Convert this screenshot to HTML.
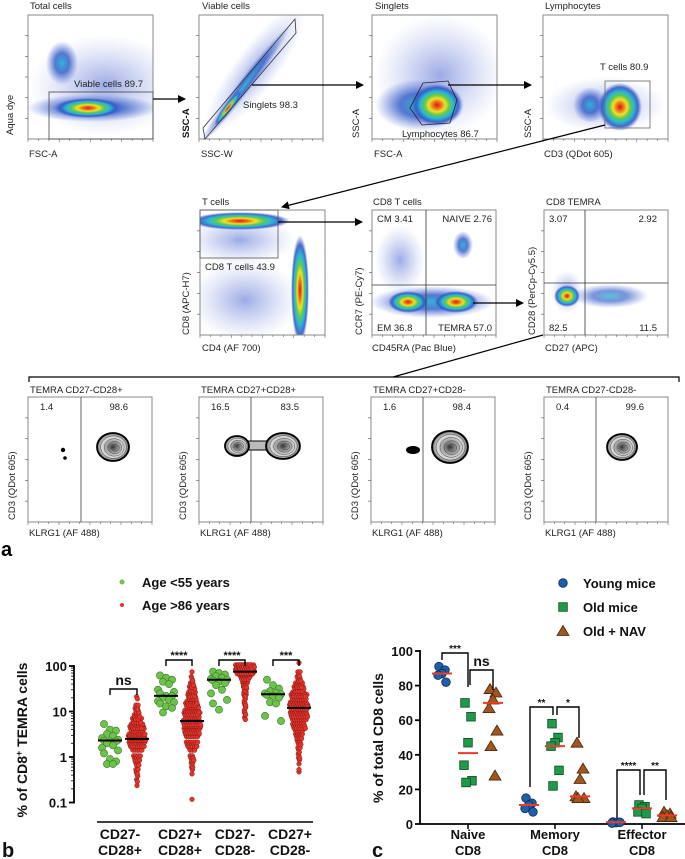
<!DOCTYPE html>
<html><head><meta charset="utf-8">
<style>
html,body{margin:0;padding:0;background:#fff;}
svg{display:block;font-family:"Liberation Sans",sans-serif;}
.fl{font-size:9.5px;fill:#222;}
.bb{font-weight:bold;fill:#111;}
</style></head>
<body>
<svg id="fig" width="685" height="859" viewBox="0 0 685 859" xmlns="http://www.w3.org/2000/svg">
<defs>
<radialGradient id="heat">
<stop offset="0" stop-color="#e3141a"/>
<stop offset="0.18" stop-color="#f07a1e"/>
<stop offset="0.32" stop-color="#efe22a"/>
<stop offset="0.48" stop-color="#62c94a"/>
<stop offset="0.64" stop-color="#28b8d8"/>
<stop offset="0.82" stop-color="#3358c4" stop-opacity="0.9"/>
<stop offset="1" stop-color="#4a66d0" stop-opacity="0"/>
</radialGradient>
<radialGradient id="cool">
<stop offset="0" stop-color="#2fb4d8"/>
<stop offset="0.45" stop-color="#3a62c8" stop-opacity="0.85"/>
<stop offset="1" stop-color="#5a74d6" stop-opacity="0"/>
</radialGradient>
<radialGradient id="haze">
<stop offset="0" stop-color="#5a72d4" stop-opacity="0.6"/>
<stop offset="1" stop-color="#8fa0e4" stop-opacity="0"/>
</radialGradient>
<radialGradient id="gray">
<stop offset="0" stop-color="#333"/>
<stop offset="0.3" stop-color="#888"/>
<stop offset="0.7" stop-color="#ddd"/>
<stop offset="0.9" stop-color="#999"/>
<stop offset="1" stop-color="#111"/>
</radialGradient>
<marker id="ar" markerWidth="8" markerHeight="8" refX="7" refY="4" orient="auto" markerUnits="userSpaceOnUse"><path d="M0,0 L8,4 L0,8 z" fill="#000"/></marker>
</defs>
<g id="flow"></g>
<g id="panelB"></g>
<g id="panelC"></g>
</svg>
<script>
// ---------- Panel b data ----------
const bCategories = [["CD27-","CD28+"],["CD27+","CD28+"],["CD27-","CD28-"],["CD27+","CD28-"]];
const bYTicks = [100,10,1,0.1];
const bYTickLabels = ["100","10","1","0.1"];
const bSig = ["ns","****","****","***"];
const bGreen = [
 [5.3,4.0,3.8,3.2,2.9,2.6,2.4,2.3,2.2,2.2,2.0,1.8,1.6,1.4,1.2,0.9,0.8,0.7,0.7],
 [62,55,50,45,40,30,27,25,22,22,20,18,17,16,15,13,12,9.5],
 [75,70,65,60,55,52,50,48,45,42,38,30,25,18,15,11],
 [50,38,32,28,26,25,24,23,22,20,16,15,8,6.2]
];
const bGreenMedian = [2.3,22,50,24];
const bRedMedian = [2.5,6.2,75,12];
const bRedLevels = [
 [0.2,0.3,0.4,0.5,0.7,1,1.5,2,2.5,3,4,5,6,8,10,13,18],
 [0.1,0.4,0.5,0.7,0.8,1,1.5,2,3,4,5,6,8,10,13,16,20,25,30,40,50,70],
 [6,7,8,10,13,16,20,25,30,40,50,60,70,80,90,100],
 [0.4,0.5,0.6,0.9,1,1.5,2,3,4,5,7,9,12,15,20,25,30,40,50,70,100]
];
const bRedCounts = [
 [1,2,3,4,6,10,16,22,24,22,20,16,13,8,6,4,2],
 [1,1,2,3,3,6,10,16,20,22,24,24,22,20,18,14,12,10,8,5,3,1],
 [1,2,2,3,3,3,4,4,5,7,10,14,22,26,26,18],
 [1,1,1,2,3,4,6,10,14,18,22,24,26,24,22,18,14,10,6,4,1]
];
// ---------- Panel c data ----------
const cCategories = [["Naive","CD8"],["Memory","CD8"],["Effector","CD8"]];
const cSeries = ["Young mice","Old mice","Old + NAV"];
const cYTicks = [0,20,40,60,80,100];
const cYoung = [[91,89,87,86,82],[15,12,11,9,7],[1.2,1,0.8,0.5,1]];
const cOld = [[70,62,47,34,25,24],[58,50,47,45,31,22],[11,10,9,7,6]];
const cNav = [[78,76,72,67,54,45,28],[47,32,26,16,15,15],[7,6,5,4,4]];
const cMedYoung = [87,11,1];
const cMedOld = [41,45,9];
const cMedNav = [70,16,5];

const NS="http://www.w3.org/2000/svg";
function mk(parent,tag,attrs,text){const e=document.createElementNS(NS,tag);for(const k in attrs)e.setAttribute(k,attrs[k]);if(text!==undefined)e.textContent=text;parent.appendChild(e);return e;}

// ================= FLOW PANELS =================
const flow=document.getElementById('flow');
function box(name){
  const g=mk(flow,'g',{});
  
  
  return g;
}
function frame(g,x,y,w,h){
  mk(g,'rect',{x:x,y:y,width:w,height:h,fill:'none',stroke:'#888','stroke-width':1});
  for(let i=1;i<6;i++){mk(g,'line',{x1:x-3,x2:x,y1:y+h*i/6,y2:y+h*i/6,stroke:'#666','stroke-width':0.7});}
  for(let i=0;i<=12;i++){mk(g,'line',{x1:x+w*i/12,x2:x+w*i/12,y1:y+h,y2:y+h+(i%3==0?3:2),stroke:'#666','stroke-width':0.6});}
}
function blob(g,cx,cy,rx,ry,fill,rot,op){
  mk(g,'ellipse',{cx:cx,cy:cy,rx:rx,ry:ry,fill:fill,transform:'rotate('+(rot||0)+' '+cx+' '+cy+')',opacity:op===undefined?1:op});
}
function txt(g,x,y,s,cls,anchor,rot,name){
  const t=mk(g,'text',{x:x,y:y,class:cls||'fl','text-anchor':anchor||'start'},s);
  if(rot)t.setAttribute('transform','rotate(-90 '+x+' '+y+')');
  
  
  return t;
}
function clipG(g,x,y,w,h,id){
  const cp=mk(flow,'clipPath',{id:id});mk(cp,'rect',{x:x,y:y,width:w,height:h});
  return mk(g,'g',{'clip-path':'url(#'+id+')'});
}
const TY=15, TH=124;
// Panel 1 Total cells
let g=box('total-cells-plot');
let c=clipG(g,28,TY,125,TH,'cp1');
blob(c,105,85,75,50,'url(#haze)');
blob(c,62,63,16,22,'url(#cool)');
blob(c,92,108,66,14,'url(#cool)');
blob(c,88,108,34,10,'url(#heat)');
frame(g,28,TY,125,TH);
mk(g,'rect',{x:49,y:92,width:104,height:47,fill:'none',stroke:'#444','stroke-width':0.8});
txt(g,74,87,'Viable cells 89.7');
txt(g,30,9,'Total cells','fl','start',0,'plot-title');
txt(g,29,157,'FSC-A','fl','start',0,'x-axis-title');
txt(g,13,135,'Aqua dye','fl','start',1,'y-axis-title');
// Panel 2
g=box('viable-cells-plot');
c=clipG(g,199,TY,124,TH,'cp2');
blob(c,255,70,80,22,'url(#haze)',-53);
blob(c,245,85,75,7,'url(#cool)',-53);
blob(c,228,108,22,4,'url(#heat)',-53,0.8);
frame(g,199,TY,124,TH);
mk(g,'polygon',{points:'203,128 205,139 296,33 295,19',fill:'none',stroke:'#333','stroke-width':0.8});
txt(g,243,108,'Singlets 98.3');
txt(g,202,9,'Viable cells','fl','start',0,'plot-title');
txt(g,201,157,'SSC-W','fl','start',0,'x-axis-title');
txt(g,189,138,'SSC-A','fl bb','start',1,'y-axis-title');
// Panel 3
g=box('singlets-plot');
c=clipG(g,372,TY,125,TH,'cp3');
blob(c,440,75,65,60,'url(#haze)');
blob(c,420,105,45,26,'url(#cool)');
blob(c,437,105,26,21,'url(#heat)');
frame(g,372,TY,125,TH);
mk(g,'polygon',{points:'423,83 448,81 457,100 450,123 422,125 410,108',fill:'none',stroke:'#222','stroke-width':0.8});
txt(g,402,137,'Lymphocytes 86.7');
txt(g,375,9,'Singlets','fl','start',0,'plot-title');
txt(g,374,157,'FSC-A','fl','start',0,'x-axis-title');
txt(g,359,138,'SSC-A','fl','start',1,'y-axis-title');
// Panel 4
g=box('lymphocytes-plot');
c=clipG(g,543,TY,125,TH,'cp4');
blob(c,605,105,60,28,'url(#haze)');
blob(c,590,105,17,18,'url(#cool)');
blob(c,620,107,22,24,'url(#heat)');
frame(g,543,TY,125,TH);
mk(g,'rect',{x:605,y:81,width:45,height:47,fill:'none',stroke:'#777','stroke-width':0.9});
txt(g,600,70,'T cells 80.9');
txt(g,545,9,'Lymphocytes','fl','start',0,'plot-title');
txt(g,544,157,'CD3 (QDot 605)','fl','start',0,'x-axis-title');
txt(g,531,138,'SSC-A','fl','start',1,'y-axis-title');
// Middle T cells
const MY=210, MH=125;
g=box('t-cells-plot');
c=clipG(g,200,MY,125,MH,'cp5');
blob(c,245,300,55,40,'url(#haze)');
blob(c,240,240,55,25,'url(#haze)');
blob(c,240,221,50,9,'url(#heat)');
blob(c,300,290,9,55,'url(#heat)');
frame(g,200,MY,125,MH);
mk(g,'rect',{x:200,y:210,width:78,height:48,fill:'none',stroke:'#555','stroke-width':0.8});
txt(g,205,270,'CD8 T cells 43.9');
txt(g,202,205,'T cells','fl','start',0,'plot-title');
txt(g,202,351,'CD4 (AF 700)','fl','start',0,'x-axis-title');
txt(g,189,335,'CD8 (APC-H7)','fl','start',1,'y-axis-title');
// Middle CD8 T cells
g=box('cd8-t-cells-plot');
c=clipG(g,372,MY,124,MH,'cp6');
blob(c,400,260,25,35,'url(#haze)');
blob(c,463,245,10,14,'url(#cool)');
blob(c,432,302,62,16,'url(#cool)');
blob(c,408,302,20,11,'url(#heat)');
blob(c,456,302,22,11,'url(#heat)');
frame(g,372,MY,124,MH);
mk(g,'line',{x1:426,x2:426,y1:210,y2:335,stroke:'#333','stroke-width':0.8});
mk(g,'line',{x1:372,x2:496,y1:285,y2:285,stroke:'#333','stroke-width':0.8});
txt(g,377,222,'CM 3.41');txt(g,492,222,'NAIVE 2.76','fl','end');
txt(g,377,331,'EM 36.8');txt(g,492,331,'TEMRA 57.0','fl','end');
txt(g,373,205,'CD8 T cells','fl','start',0,'plot-title');
txt(g,372,351,'CD45RA (Pac Blue)','fl','start',0,'x-axis-title');
txt(g,362,335,'CCR7 (PE-Cy7)','fl','start',1,'y-axis-title');
// Middle CD8 TEMRA
g=box('cd8-temra-plot');
c=clipG(g,544,MY,124,MH,'cp7');
blob(c,610,296,38,12,'url(#cool)',0,0.8);
blob(c,567,292,16,22,'url(#haze)');
blob(c,567,296,13,11,'url(#heat)');
frame(g,544,MY,124,MH);
mk(g,'line',{x1:585,x2:585,y1:210,y2:335,stroke:'#333','stroke-width':0.8});
mk(g,'line',{x1:544,x2:668,y1:283,y2:283,stroke:'#333','stroke-width':0.8});
txt(g,549,222,'3.07');txt(g,657,222,'2.92','fl','end');
txt(g,549,331,'82.5');txt(g,657,331,'11.5','fl','end');
txt(g,546,205,'CD8 TEMRA','fl','start',0,'plot-title');
txt(g,545,351,'CD27 (APC)','fl','start',0,'x-axis-title');
txt(g,535,335,'CD28 (PerCp-Cy5.5)','fl','start',1,'y-axis-title');
// Arrows
const arrows=[[153,99,185,99],[252,85,363,85],[448,85,531,85],[605,125,282,207],[278,222,362,222],[473,303,523,303]];
arrows.forEach(a=>{const l=mk(flow,'line',{x1:a[0],y1:a[1],x2:a[2],y2:a[3],stroke:'#000','stroke-width':1.3,'marker-end':'url(#ar)'});

});
// Bracket to bottom row
const br=mk(flow,'path',{d:'M29,382 V377 H679 V382 M393,377 L543,335',fill:'none',stroke:'#000','stroke-width':1.2});


// Bottom contour panels
const BY=397, BH=125;
const bp=[[28,81,'TEMRA CD27-CD28+','1.4','98.6'],[199,251,'TEMRA CD27+CD28+','16.5','83.5'],[371,423,'TEMRA CD27+CD28-','1.6','98.4'],[544,596,'TEMRA CD27-CD28-','0.4','99.6']];
function contour(gg,cx,cy,rx,ry){
  mk(gg,'ellipse',{cx:cx,cy:cy,rx:rx,ry:ry,fill:'url(#gray)',stroke:'#000','stroke-width':1.8});
  for(let k=1;k<5;k++)mk(gg,'ellipse',{cx:cx+k*0.6,cy:cy+k*0.2,rx:rx*(1-k*0.19),ry:ry*(1-k*0.19),fill:'none',stroke:'#444','stroke-width':0.5});
}
bp.forEach((p,i)=>{
  const gg=box('klrg1-plot-'+(i+1));
  frame(gg,p[0],BY,124,BH);
  mk(gg,'line',{x1:p[1],x2:p[1],y1:BY,y2:BY+BH,stroke:'#555','stroke-width':0.9});
  txt(gg,p[0]+2,393,p[2],'fl','start',0,'plot-title');
  txt(gg,p[0]+12,410,p[3]);
  txt(gg,p[0]+100,410,p[4],'fl','end');
  txt(gg,p[0]+1,536,'KLRG1 (AF 488)','fl','start',0,'x-axis-title');
  txt(gg,p[0]-13,520,'CD3 (QDot 605)','fl','start',1,'y-axis-title');
  if(i==0){contour(gg,113,447,16,14);mk(gg,'circle',{cx:63,cy:450,r:2.2});mk(gg,'circle',{cx:65,cy:458,r:1.8});}
  if(i==1){mk(gg,'rect',{x:240,y:441,width:40,height:9,fill:'#bbb',stroke:'#000','stroke-width':1});contour(gg,237,446,12,10);contour(gg,283,446,17,13);}
  if(i==2){mk(gg,'ellipse',{cx:413,cy:450,rx:7,ry:4,fill:'#000'});contour(gg,450,447,18,16);}
  if(i==3){contour(gg,622,447,15,13);}
});
const la=mk(flow,'text',{x:1,y:556,'font-size':20,'font-weight':'bold'},'a');



// ================= PANEL B =================
const B=document.getElementById('panelB');
const bY0=666, bDec=45.5, bAxX=74;
function byScale(v){return bY0+(2-Math.log10(v))*bDec;}
const bGreenX=[110,166,219,273], bRedX=[137,192,245,299], bCatX=[120,180,235,290];
let e=mk(B,'line',{x1:bAxX,x2:bAxX,y1:bY0-1,y2:byScale(0.1)+1,stroke:'#000','stroke-width':1.8});

bYTicks.forEach((t,i)=>{const y=byScale(t);
 mk(B,'line',{x1:bAxX-5,x2:bAxX,y1:y,y2:y,stroke:'#000','stroke-width':1.8});
 const tt=mk(B,'text',{x:bAxX-7,y:y+5,'text-anchor':'end','font-size':13,class:'bb'},bYTickLabels[i]);
 });
for(let d=0;d<3;d++)for(let m=2;m<10;m++){const y=byScale(Math.pow(10,d-1)*m);mk(B,'line',{x1:bAxX-3,x2:bAxX,y1:y,y2:y,stroke:'#000','stroke-width':0.8});}
e=mk(B,'line',{x1:97,x2:313,y1:822,y2:822,stroke:'#000','stroke-width':1.5});

bCategories.forEach((cat,i)=>{
 const t1=mk(B,'text',{x:bCatX[i],y:839,'text-anchor':'middle','font-size':14,class:'bb'},cat[0]);
 
 const t2=mk(B,'text',{x:bCatX[i],y:855,'text-anchor':'middle','font-size':14,class:'bb'},cat[1]);
 
});
e=mk(B,'text',{x:27,y:740,'text-anchor':'middle','font-size':14,class:'bb',transform:'rotate(-90 27 740)'});
e.innerHTML='% of CD8<tspan dy="-5" font-size="9">+</tspan><tspan dy="5"> TEMRA  cells</tspan>';

// red swarm
bRedLevels.forEach((lv,gi)=>{
 lv.forEach((v,j)=>{const n=bRedCounts[gi][j];
  for(let k=0;k<n;k++){
   const dx=(k-(n-1)/2)*0.75;
   const dy=((k%3)-1)*2.2+((j%2)?1:-1);
   const p=mk(B,'circle',{cx:bRedX[gi]+dx,cy:byScale(v)+dy,r:2.3,fill:'#e8332a',stroke:'#7a1a14','stroke-width':0.5});
   
   
  }});
});
// green swarm
const gOff=[-6,0,6,-3,3,-8,8];
bGreen.forEach((arr,gi)=>{arr.forEach((v,k)=>{
 const p=mk(B,'circle',{cx:bGreenX[gi]+gOff[k%7],cy:byScale(v),r:3.6,fill:'#6cc24a',stroke:'#3b7a2a','stroke-width':0.6});
 
 
});});
bGreenMedian.forEach((m,i)=>{const l=mk(B,'line',{x1:bGreenX[i]-12,x2:bGreenX[i]+12,y1:byScale(m),y2:byScale(m),stroke:'#000','stroke-width':2});
 });
bRedMedian.forEach((m,i)=>{const l=mk(B,'line',{x1:bRedX[i]-12,x2:bRedX[i]+12,y1:byScale(m),y2:byScale(m),stroke:'#000','stroke-width':2});
 });
const bSigY=[689,660,660,660];
bSig.forEach((s,i)=>{const y=bSigY[i];
 const p=mk(B,'path',{d:'M'+bGreenX[i]+','+(y+6)+' V'+y+' H'+bRedX[i]+' V'+(y+6),fill:'none',stroke:'#000','stroke-width':1.4});
 
 const t=mk(B,'text',{x:(bGreenX[i]+bRedX[i])/2,y:s=='ns'?y-4:y-1,'text-anchor':'middle','font-size':s=='ns'?14:11,class:'bb'},s);
 
});
e=mk(B,'circle',{cx:122,cy:582,r:2.5,fill:'#6cc24a'});
e=mk(B,'text',{x:142,y:587,'font-size':13,class:'bb'},'Age <55 years');
e=mk(B,'circle',{cx:122,cy:605,r:2,fill:'#e8332a'});
e=mk(B,'text',{x:142,y:610,'font-size':13,class:'bb'},'Age >86 years');
e=mk(B,'text',{x:2,y:857,'font-size':20,class:'bb'},'b');

// ================= PANEL C =================
const C=document.getElementById('panelC');
const cAxX=420, cY0=824, cPx=1.73;
function cy(v){return cY0-v*cPx;}
const cGroupX=[468,555,642], cOff=[-26,0,25];
e=mk(C,'line',{x1:cAxX,x2:cAxX,y1:cy(100)-1,y2:cY0,stroke:'#000','stroke-width':1.8});

e=mk(C,'line',{x1:cAxX,x2:685,y1:cY0,y2:cY0,stroke:'#000','stroke-width':1.8});

cYTicks.forEach(t=>{const y=cy(t);mk(C,'line',{x1:cAxX-5,x2:cAxX,y1:y,y2:y,stroke:'#000','stroke-width':1.8});
 const tt=mk(C,'text',{x:cAxX-7,y:y+5,'text-anchor':'end','font-size':13,class:'bb'},String(t));
 });
cGroupX.forEach((x,i)=>{mk(C,'line',{x1:x,x2:x,y1:cY0,y2:cY0+5,stroke:'#000','stroke-width':1.5});
 const t1=mk(C,'text',{x:x,y:839,'text-anchor':'middle','font-size':13,class:'bb'},cCategories[i][0]);
 
 const t2=mk(C,'text',{x:x,y:855,'text-anchor':'middle','font-size':13,class:'bb'},cCategories[i][1]);
 });
e=mk(C,'text',{x:383,y:738,'text-anchor':'middle','font-size':14,class:'bb',transform:'rotate(-90 383 738)'},'% of total CD8 cells');

const jit=[-3,3,0,-4,4,-2,2];
function circ(x,y){return mk(C,'circle',{cx:x,cy:y,r:4.3,fill:'#1f5ea8',stroke:'#0d2c55','stroke-width':0.8});}
function sq(x,y){return mk(C,'rect',{x:x-4.3,y:y-4.3,width:8.6,height:8.6,fill:'#1f9a4a',stroke:'#0c4a22','stroke-width':0.8});}
function tri(x,y){return mk(C,'polygon',{points:(x)+','+(y-5.5)+' '+(x+6)+','+(y+4.5)+' '+(x-6)+','+(y+4.5),fill:'#a0561e',stroke:'#4a2408','stroke-width':0.8});}
[[cYoung,circ,'young-point'],[cOld,sq,'old-point'],[cNav,tri,'nav-point']].forEach((s,si)=>{
 s[0].forEach((arr,gi)=>arr.forEach((v,k)=>{const el=s[1](cGroupX[gi]+cOff[si]+jit[k%7],cy(v));
  
  }));
});
[cMedYoung,cMedOld,cMedNav].forEach((m,si)=>m.forEach((v,gi)=>{const x=cGroupX[gi]+cOff[si];
 const l=mk(C,'line',{x1:x-10,x2:x+10,y1:cy(v),y2:cy(v),stroke:'#f03a24','stroke-width':2});
 }));
const cBr=[[442,468,653,660,687,'***'],[470,493,670,685,690,'ns'],[530,553,707,787,715,'**'],[557,579,707,715,738,'*'],[617,640,770,818,795,'****'],[644,666,770,795,800,'**']];
cBr.forEach(b=>{const p=mk(C,'path',{d:'M'+b[0]+','+b[3]+' V'+b[2]+' H'+b[1]+' V'+b[4],fill:'none',stroke:'#000','stroke-width':1.4});
 
 const t=mk(C,'text',{x:(b[0]+b[1])/2,y:b[5]=='ns'?b[2]-4:b[2]-1,'text-anchor':'middle','font-size':b[5]=='ns'?14:10,class:'bb'},b[5]);
 });
e=circ(563,583);
e=sq(563,607);
e=tri(563,631);
cSeries.forEach((s,i)=>{const t=mk(C,'text',{x:583,y:588+i*24,'font-size':13,class:'bb'},s);
 });
e=mk(C,'text',{x:372,y:857,'font-size':20,class:'bb'},'c');
</script>
</body></html>
